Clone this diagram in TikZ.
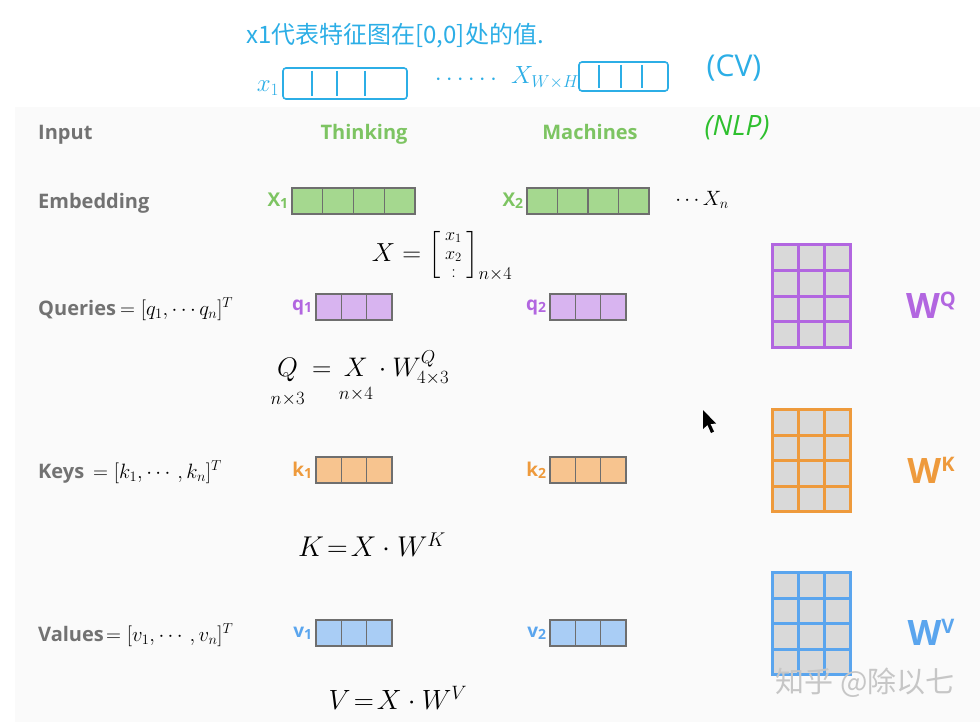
\documentclass[tikz,border=0pt]{standalone}
\usepackage{amsmath}
\usepackage{fontspec}
\setmainfont{Open Sans}
\newfontfamily\cjk{Noto Sans CJK SC}
\usetikzlibrary{positioning}

\definecolor{labelgray}{HTML}{727272}
\definecolor{panel}{HTML}{FAFAFA}
\definecolor{boxgray}{HTML}{6E6E6E}
\definecolor{cellgray}{HTML}{D9D9D9}
\definecolor{tgreen}{HTML}{7DC462}
\definecolor{cgreen}{HTML}{A5D88F}
\definecolor{tpurple}{HTML}{B266E0}
\definecolor{cpurple}{HTML}{D8B4F0}
\definecolor{torange}{HTML}{EE9A3C}
\definecolor{corange}{HTML}{F7C48F}
\definecolor{tblue}{HTML}{5AA5EE}
\definecolor{cblue}{HTML}{A9CDF5}
\definecolor{penblue}{HTML}{2CAEE6}
\definecolor{pengreen}{HTML}{2EC02E}

\newcommand\lowidx[1]{\raisebox{-2pt}{\fontsize{14}{14}\selectfont #1}}
\newcommand\topidx[1]{\raisebox{12pt}{\fontsize{20}{20}\selectfont #1}}
\newcommand\dimsize[1]{\raisebox{-6pt}{$\scriptstyle #1$}}

\begin{document}
\begin{tikzpicture}[x=1pt,y=-1pt,
  rowlabel/.style={anchor=base west, inner sep=0pt, text=labelgray, font=\fontsize{20}{24}\selectfont\bfseries},
  word/.style={anchor=base, inner sep=0pt, text=tgreen, font=\fontsize{20}{24}\selectfont\bfseries},
  vecbox/.style={draw=boxgray, line width=1.2pt, inner sep=0pt, minimum height=26},
  veclab/.style={inner sep=1pt, font=\fontsize{19}{24}\selectfont\bfseries},
  divider/.style={draw=boxgray, line width=1.2pt},
  wmat/.style={line width=3pt, fill=cellgray, inner sep=0pt, minimum width=78, minimum height=102},
  wlab/.style={inner sep=0pt, font=\fontsize{35}{40}\selectfont\bfseries},
  pen/.style={inner sep=0pt, text=black, font=\fontsize{20}{24}\selectfont},
  bigpen/.style={inner sep=0pt, text=black, font=\fontsize{24}{26}\selectfont},
  bluepen/.style={inner sep=0pt, text=penblue, font=\cjk\fontsize{24}{28}\selectfont},
  bluebox/.style={draw=penblue, line width=1.6pt, rounded corners=3pt},
  markfont/.style={inner sep=0pt, font=\cjk\fontsize{29}{30}\selectfont},
]
  % page and slide panel
  \useasboundingbox (0,0) rectangle (980,722);
  \fill[white] (0,0) rectangle (980,722);
  \fill[panel] (15,107) rectangle (980,722);

  % row labels
  \node (input)     [rowlabel] at (38,140) {Input};
  \node (embedding) [rowlabel] at (38,209) {Embedding};
  \node (queries)   [rowlabel] at (38,315) {Queries};
  \node (keys)      [rowlabel] at (38,478) {Keys};
  \node (values)    [rowlabel] at (38,641) {Values};

  % input words
  \node (thinking) [word] at (364,140) {Thinking};
  \node (machines) [word] at (590,140) {Machines};

  % embeddings
  \node (xbox1) [vecbox, fill=cgreen, minimum width=123] at (353.5,201) {};
  \foreach \i in {1,2,3} \draw[divider] (292+\i*30.75,188) -- ++(0,26);
  \node (xlab1) [veclab, text=tgreen, left=2pt of xbox1] {X\lowidx{1}};
  \node (xbox2) [vecbox, fill=cgreen, minimum width=122] at (588,201) {};
  \foreach \i in {1,2,3} \draw[divider] (527+\i*30.5,188) -- ++(0,26);
  \node (xlab2) [veclab, text=tgreen, left=2pt of xbox2] {X\lowidx{2}};

  % queries, keys, values
  \foreach \nm/\y/\fc/\tc in {q/307/cpurple/tpurple, k/470/corange/torange, v/633/cblue/tblue} {
    \node (\nm box1) [vecbox, fill=\fc, minimum width=76] at (354,\y) {};
    \foreach \i in {1,2} \draw[divider] (316+\i*25.33,\y-13) -- ++(0,26);
    \node (\nm lab1) [veclab, text=\tc, left=2pt of \nm box1] {\nm\lowidx{1}};
    \node (\nm box2) [vecbox, fill=\fc, minimum width=76] at (588,\y) {};
    \foreach \i in {1,2} \draw[divider] (550+\i*25.33,\y-13) -- ++(0,26);
    \node (\nm lab2) [veclab, text=\tc, left=2pt of \nm box2] {\nm\lowidx{2}};
  }

  % weight matrices
  \foreach \nm/\y/\cc in {Q/296/tpurple, K/460.5/torange, V/623.5/tblue} {
    \node (w\nm) [wmat, draw=\cc] at (811,\y) {};
    \foreach \c in {1,2} \draw[\cc, line width=3pt] (772+\c*26,\y-51) -- ++(0,102);
    \foreach \r in {1,2,3} \draw[\cc, line width=3pt] (772,\y-51+\r*25.5) -- ++(78,0);
  }
  \node (wqlab) [wlab, text=tpurple] at (931,305) {W\topidx{Q}};
  \node (wklab) [wlab, text=torange] at (931,470) {W\topidx{K}};
  \node (wvlab) [wlab, text=tblue]   at (931,632) {W\topidx{V}};

  % blue pen notes (CV)
  \node (note) [bluepen, anchor=west] at (246,36) {x1代表特征图在[0,0]处的值.};
  \node (cvx1) [bluepen] at (268,88) {$x_1$};
  \draw[bluebox] (283,68) rectangle (407,99);
  \foreach \x in {312,337,365} \draw[penblue, line width=1.6pt] (\x,71) -- (\x,96);
  \node (cvdots) [bluepen] at (468,80) {$\cdots\cdots$};
  \node (cvxn) [bluepen] at (545,78) {$X_{W\times H}$};
  \draw[bluebox] (579,62) rectangle (668,91);
  \foreach \x in {599,621,642} \draw[penblue, line width=1.6pt] (\x,65) -- (\x,88);
  \node (cv) [bluepen, font=\fontsize{30}{32}\selectfont] at (734,68) {(CV)};
  \node (nlp) [inner sep=0pt, text=pengreen, font=\fontsize{28}{30}\selectfont\itshape] at (737,128) {(NLP)};

  % black pen notes
  \node (xn) [pen] at (702,200) {$\cdots X_n$};
  \node (xdef) [bigpen] at (442,256) {\scalebox{1.05}{$X=\left[\begin{smallmatrix}x_1\\[6pt]x_2\\[5pt]{:}\end{smallmatrix}\right]_{n\times4}$}};
  \node (qdef) [pen, anchor=base west] at (120,315) {$=[q_1,\cdots q_n]^T$};
  \node (kdef) [pen, anchor=base west] at (93,478) {$=[k_1,\cdots,k_n]^T$};
  \node (vdef) [pen, anchor=base west] at (106,641) {$=[v_1,\cdots,v_n]^T$};
  \node (qform) [bigpen] at (360,380) {\scalebox{1.08}{$\underset{\dimsize{n\times3}}{Q}=\underset{\dimsize{n\times4}}{X}\cdot W^{Q}_{4\times3}$}};
  \node (kform) [bigpen] at (372,545) {\scalebox{1.15}{$K\!=\!X\cdot W^{K}$}};
  \node (vform) [bigpen] at (398,698) {\scalebox{1.12}{$V\!=\!X\cdot W^{V}$}};

  % mouse pointer
  \fill[black] (703,410) -- (703,429) -- (707.5,425) -- (711,433) -- (714,431.5) -- (710.5,424) -- (716,423.5) -- cycle;

  % watermark
  \node (wm) [markfont, text=gray!45] at (865,683) {知乎 @除以七};
\end{tikzpicture}
\end{document}
